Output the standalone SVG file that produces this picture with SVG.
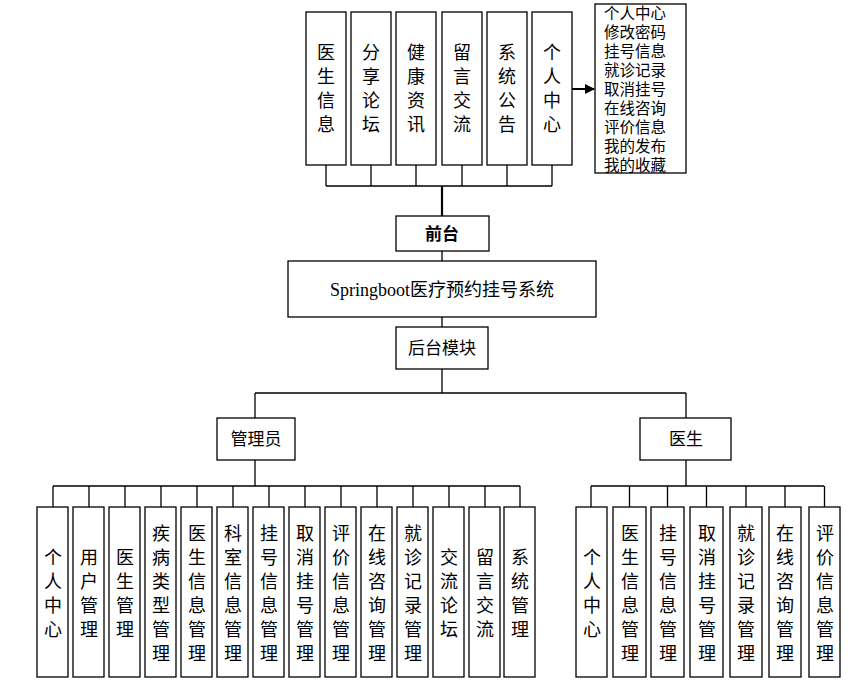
<svg xmlns="http://www.w3.org/2000/svg" width="866" height="682" viewBox="0 0 866 682">
<style>
rect{fill:#fff;stroke:#000;stroke-width:1.3}
text{font-family:"Liberation Serif","Noto Sans CJK SC",serif;font-size:18px;fill:#000;text-anchor:middle}
.v{font-size:18px}
.l{font-size:15.5px;text-anchor:start}
#connectors path{fill:none;stroke:#000;stroke-width:1.3}
</style>
<defs><marker id="ar" markerWidth="10" markerHeight="10" refX="9" refY="5" orient="auto" markerUnits="userSpaceOnUse"><path d="M0,0L10,5L0,10z" fill="#000"/></marker></defs>
<rect x="0" y="0" width="866" height="682" style="stroke:none"/>
<g id="connectors">
<path d="M326,165V186M371,165V186M416,165V186M462,165V186M507,165V186M552,165V186M326,186H552"/>
<path d="M442,186V216" style="stroke-width:2.2"/>
<path d="M442,251V261M442,317V327M442,369V393M255,393H686M255,393V418M686,393V418"/>
<path d="M572,89H594" marker-end="url(#ar)" style="stroke-width:2"/>
<path d="M255,460V486M53,486H520M53,486V507M89,486V507M125,486V507M161,486V507M197,486V507M233,486V507M269,486V507M305,486V507M341,486V507M377,486V507M413,486V507M449,486V507M485,486V507M520,486V507"/>
<path d="M686,460V486M591,486H824M591,486V507M629.5,486V507M667.5,486V507M706.5,486V507M746,486V507M785,486V507M824.5,486V507"/>
</g>
<g id="top1"><rect x="306" y="12" width="40" height="153"/><text class="v" x="326" y="59">医<tspan x="326" dy="24">生</tspan><tspan x="326" dy="24">信</tspan><tspan x="326" dy="24">息</tspan></text></g>
<g id="top2"><rect x="351" y="12" width="40" height="153"/><text class="v" x="371" y="59">分<tspan x="371" dy="24">享</tspan><tspan x="371" dy="24">论</tspan><tspan x="371" dy="24">坛</tspan></text></g>
<g id="top3"><rect x="396" y="12" width="40" height="153"/><text class="v" x="416" y="59">健<tspan x="416" dy="24">康</tspan><tspan x="416" dy="24">资</tspan><tspan x="416" dy="24">讯</tspan></text></g>
<g id="top4"><rect x="442" y="12" width="40" height="153"/><text class="v" x="462" y="59">留<tspan x="462" dy="24">言</tspan><tspan x="462" dy="24">交</tspan><tspan x="462" dy="24">流</tspan></text></g>
<g id="top5"><rect x="487" y="12" width="40" height="153"/><text class="v" x="507" y="59">系<tspan x="507" dy="24">统</tspan><tspan x="507" dy="24">公</tspan><tspan x="507" dy="24">告</tspan></text></g>
<g id="top6"><rect x="532" y="12" width="40" height="153"/><text class="v" x="552" y="59">个<tspan x="552" dy="24">人</tspan><tspan x="552" dy="24">中</tspan><tspan x="552" dy="24">心</tspan></text></g>
<g id="list"><rect x="595" y="4" width="91" height="169"/><text class="l" x="604" y="19">个人中心<tspan x="604" dy="19">修改密码</tspan><tspan x="604" dy="19">挂号信息</tspan><tspan x="604" dy="19">就诊记录</tspan><tspan x="604" dy="19">取消挂号</tspan><tspan x="604" dy="19">在线咨询</tspan><tspan x="604" dy="19">评价信息</tspan><tspan x="604" dy="19">我的发布</tspan><tspan x="604" dy="19">我的收藏</tspan></text></g>
<g id="qiantai"><rect x="396" y="216" width="93" height="35"/><text x="442" y="240" font-weight="bold" style="font-size:17px">前台</text></g>
<g id="system"><rect x="288" y="261" width="308" height="56"/><text x="442" y="296">Springboot医疗预约挂号系统</text></g>
<g id="houtai"><rect x="396" y="327" width="92" height="42"/><text x="442" y="354" style="font-size:17px">后台模块</text></g>
<g id="admin"><rect x="217" y="418" width="78" height="42"/><text x="256" y="445" style="font-size:17px">管理员</text></g>
<g id="doctor"><rect x="640" y="418" width="91" height="42"/><text x="686" y="445" style="font-size:17px">医生</text></g>
<g id="a1"><rect x="37" y="507" width="31" height="170"/><text x="53" y="564">个<tspan x="53" dy="24">人</tspan><tspan x="53" dy="24">中</tspan><tspan x="53" dy="24">心</tspan></text></g>
<g id="a2"><rect x="73" y="507" width="31" height="170"/><text x="89" y="564">用<tspan x="89" dy="24">户</tspan><tspan x="89" dy="24">管</tspan><tspan x="89" dy="24">理</tspan></text></g>
<g id="a3"><rect x="109" y="507" width="31" height="170"/><text x="125" y="564">医<tspan x="125" dy="24">生</tspan><tspan x="125" dy="24">管</tspan><tspan x="125" dy="24">理</tspan></text></g>
<g id="a4"><rect x="145" y="507" width="31" height="170"/><text x="161" y="540">疾<tspan x="161" dy="24">病</tspan><tspan x="161" dy="24">类</tspan><tspan x="161" dy="24">型</tspan><tspan x="161" dy="24">管</tspan><tspan x="161" dy="24">理</tspan></text></g>
<g id="a5"><rect x="181" y="507" width="31" height="170"/><text x="197" y="540">医<tspan x="197" dy="24">生</tspan><tspan x="197" dy="24">信</tspan><tspan x="197" dy="24">息</tspan><tspan x="197" dy="24">管</tspan><tspan x="197" dy="24">理</tspan></text></g>
<g id="a6"><rect x="217" y="507" width="31" height="170"/><text x="233" y="540">科<tspan x="233" dy="24">室</tspan><tspan x="233" dy="24">信</tspan><tspan x="233" dy="24">息</tspan><tspan x="233" dy="24">管</tspan><tspan x="233" dy="24">理</tspan></text></g>
<g id="a7"><rect x="253" y="507" width="31" height="170"/><text x="269" y="540">挂<tspan x="269" dy="24">号</tspan><tspan x="269" dy="24">信</tspan><tspan x="269" dy="24">息</tspan><tspan x="269" dy="24">管</tspan><tspan x="269" dy="24">理</tspan></text></g>
<g id="a8"><rect x="289" y="507" width="31" height="170"/><text x="305" y="540">取<tspan x="305" dy="24">消</tspan><tspan x="305" dy="24">挂</tspan><tspan x="305" dy="24">号</tspan><tspan x="305" dy="24">管</tspan><tspan x="305" dy="24">理</tspan></text></g>
<g id="a9"><rect x="325" y="507" width="31" height="170"/><text x="341" y="540">评<tspan x="341" dy="24">价</tspan><tspan x="341" dy="24">信</tspan><tspan x="341" dy="24">息</tspan><tspan x="341" dy="24">管</tspan><tspan x="341" dy="24">理</tspan></text></g>
<g id="a10"><rect x="361" y="507" width="31" height="170"/><text x="377" y="540">在<tspan x="377" dy="24">线</tspan><tspan x="377" dy="24">咨</tspan><tspan x="377" dy="24">询</tspan><tspan x="377" dy="24">管</tspan><tspan x="377" dy="24">理</tspan></text></g>
<g id="a11"><rect x="397" y="507" width="31" height="170"/><text x="413" y="540">就<tspan x="413" dy="24">诊</tspan><tspan x="413" dy="24">记</tspan><tspan x="413" dy="24">录</tspan><tspan x="413" dy="24">管</tspan><tspan x="413" dy="24">理</tspan></text></g>
<g id="a12"><rect x="433" y="507" width="31" height="170"/><text x="449" y="564">交<tspan x="449" dy="24">流</tspan><tspan x="449" dy="24">论</tspan><tspan x="449" dy="24">坛</tspan></text></g>
<g id="a13"><rect x="469" y="507" width="31" height="170"/><text x="485" y="564">留<tspan x="485" dy="24">言</tspan><tspan x="485" dy="24">交</tspan><tspan x="485" dy="24">流</tspan></text></g>
<g id="a14"><rect x="504" y="507" width="31" height="170"/><text x="520" y="564">系<tspan x="520" dy="24">统</tspan><tspan x="520" dy="24">管</tspan><tspan x="520" dy="24">理</tspan></text></g>
<g id="d1"><rect x="576" y="507" width="31" height="170"/><text x="592" y="564">个<tspan x="592" dy="24">人</tspan><tspan x="592" dy="24">中</tspan><tspan x="592" dy="24">心</tspan></text></g>
<g id="d2"><rect x="613" y="507" width="33" height="170"/><text x="630" y="540">医<tspan x="630" dy="24">生</tspan><tspan x="630" dy="24">信</tspan><tspan x="630" dy="24">息</tspan><tspan x="630" dy="24">管</tspan><tspan x="630" dy="24">理</tspan></text></g>
<g id="d3"><rect x="651" y="507" width="33" height="170"/><text x="668" y="540">挂<tspan x="668" dy="24">号</tspan><tspan x="668" dy="24">信</tspan><tspan x="668" dy="24">息</tspan><tspan x="668" dy="24">管</tspan><tspan x="668" dy="24">理</tspan></text></g>
<g id="d4"><rect x="690" y="507" width="33" height="170"/><text x="707" y="540">取<tspan x="707" dy="24">消</tspan><tspan x="707" dy="24">挂</tspan><tspan x="707" dy="24">号</tspan><tspan x="707" dy="24">管</tspan><tspan x="707" dy="24">理</tspan></text></g>
<g id="d5"><rect x="730" y="507" width="32" height="170"/><text x="746" y="540">就<tspan x="746" dy="24">诊</tspan><tspan x="746" dy="24">记</tspan><tspan x="746" dy="24">录</tspan><tspan x="746" dy="24">管</tspan><tspan x="746" dy="24">理</tspan></text></g>
<g id="d6"><rect x="769" y="507" width="32" height="170"/><text x="785" y="540">在<tspan x="785" dy="24">线</tspan><tspan x="785" dy="24">咨</tspan><tspan x="785" dy="24">询</tspan><tspan x="785" dy="24">管</tspan><tspan x="785" dy="24">理</tspan></text></g>
<g id="d7"><rect x="809" y="507" width="31" height="170"/><text x="825" y="540">评<tspan x="825" dy="24">价</tspan><tspan x="825" dy="24">信</tspan><tspan x="825" dy="24">息</tspan><tspan x="825" dy="24">管</tspan><tspan x="825" dy="24">理</tspan></text></g>
</svg>
